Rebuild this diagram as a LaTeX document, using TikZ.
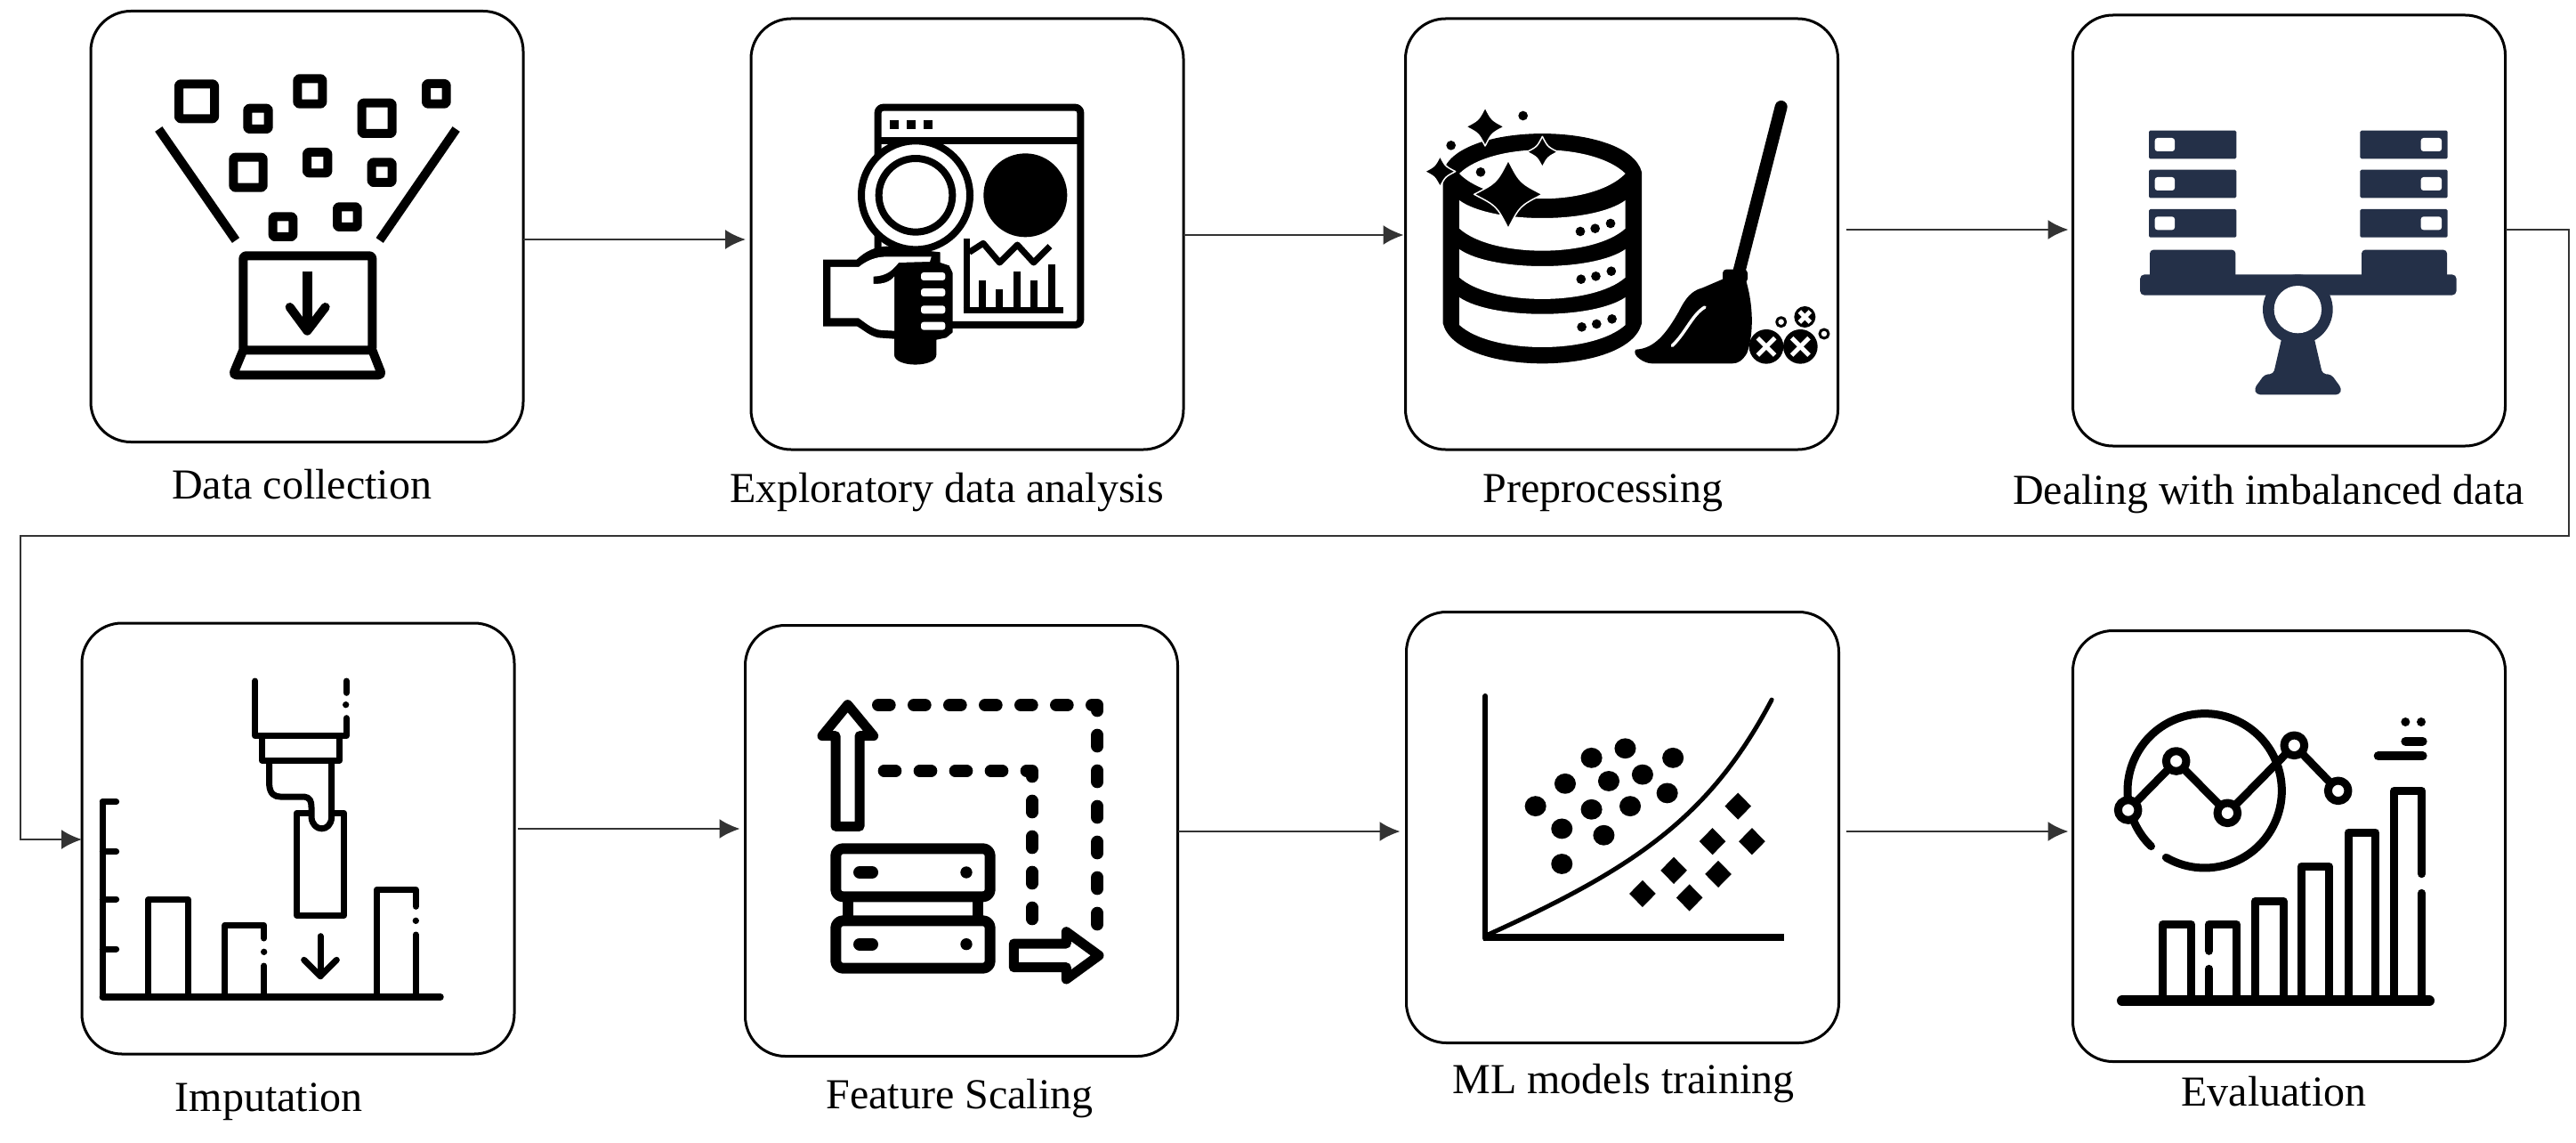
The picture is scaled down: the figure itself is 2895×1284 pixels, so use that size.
\documentclass[tikz,border=0pt]{standalone}
\usepackage{fontspec}
\setmainfont{Liberation Serif}
\usepackage{tikz}
\usetikzlibrary{arrows.meta,positioning,calc}
\definecolor{iconnavy}{RGB}{36,48,72}

\begin{document}
\begin{tikzpicture}[
        x=1pt, y=-1pt,
        >={Latex[length=23pt,width=22pt]},
        stepbox/.style={rectangle, rounded corners=45pt, draw, line width=3pt,
            minimum width=486pt,
            minimum height=484pt,
            inner sep=0pt, outer sep=0pt},
        steplabel/.style={inner sep=0pt, outer sep=0pt, text height=34pt, text depth=12pt,
            font=\fontsize{48}{50}\selectfont},
        flow/.style={->, line width=2.2pt, black!80},
        % each icon is measured in its own 3x frame
        crop/.style 2 args={shift={(#1,#2)}, scale=1/3},
        qd/.style={shift={(1450,640)}, xscale=.925, yscale=.408},
        ln/.style={line width=#1, line join=round},
        ln/.default=7pt
    ]
        \useasboundingbox (0,0) rectangle (2895,1284);

        \node[stepbox] (node1) at (345,254.5) {};
        \node[stepbox] (node2) at (1087,263) {};
        \node[stepbox] (node3) at (1822.5,263) {};
        \node[stepbox] (node4) at (2572.5,259) {};
        \node[stepbox] (node5) at (335,942) {};
        \node[stepbox] (node6) at (1080.5,944.5) {};
        \node[stepbox] (node7) at (1823.5,929.5) {};
        \node[stepbox] (node8) at (2572.5,950.5) {};

        \node[steplabel, below=30pt of node1, xshift=-6pt] (lab1) {Data collection};
        \node[steplabel, below=25pt of node2, xshift=-23pt] (lab2) {Exploratory data analysis};
        \node[steplabel, below=25pt of node3, xshift=-21pt] (lab3) {Preprocessing};
        \node[steplabel, below=31pt of node4, xshift=-23pt] (lab4) {Dealing with imbalanced data};
        \node[steplabel, below=30pt of node5, xshift=-33pt] (lab5) {Imputation};
        \node[steplabel, below=25pt of node6, xshift=-2pt] (lab6) {Feature Scaling};
        \node[steplabel, below=23pt of node7, xshift=1pt] (lab7) {ML models training};
        \node[steplabel, below=16pt of node8, xshift=-17pt] (lab8) {Evaluation};

        % Connections
        \coordinate (bendA) at (2887,602);
        \coordinate (bendB) at (23,602);
        \draw[flow] ([yshift=-14.5pt]node1.east) -- ([xshift=-6pt,yshift=-6pt]node2.west);
        \draw[flow] ([yshift=-1pt]node2.east) -- ([xshift=-2pt,yshift=-1pt]node3.west);
        \draw[flow] ([xshift=9pt,yshift=5pt]node3.east) -- ([xshift=-5pt,yshift=1pt]node4.west);
        \draw[flow] ([yshift=1pt]node4.east) -| (bendA) -- (bendB) |- ([yshift=-1pt]node5.west);
        \draw[flow] ([xshift=4pt,yshift=11pt]node5.east) -- ([xshift=-6pt,yshift=13.5pt]node6.west);
        \draw[flow] ([yshift=10.5pt]node6.east) -- ([xshift=-7pt,yshift=-4.5pt]node7.west);
        \draw[flow] ([xshift=8pt,yshift=-4.5pt]node7.east) -- ([xshift=-5pt,yshift=16.5pt]node8.west);

        % Data collection
        \begin{scope}[crop={160}{70}]
            \foreach \xa/\ya/\xb/\yb in {108/58/258/205, 340/140/440/240, 508/40/622/155,
                725/122/857/255, 942/57/1040/155, 292/305/422/437, 540/288/640/388,
                758/322/857/420, 425/505/523/603, 642/472/740/570}
                \draw[ln=10pt, rounded corners=2pt] (\xa+15,\ya+15) rectangle (\xb-15,\yb-15);
            \draw[ln=10pt] (55,225) -- (315,600);
            \draw[ln=10pt] (1058,225) -- (800,600);
            \draw[ln=10pt, rounded corners=3pt] (340,652) rectangle (775,970);
            \draw[ln=10pt, rounded corners=4pt] (340,970) -- (305,1054) -- (808,1054) -- (775,970);
            \draw[ln=11pt] (556,705) -- (556,895);
            \draw[ln=10pt, line cap=round] (497,825) -- (556,905) -- (617,825);
        \end{scope}

        % Exploratory data analysis
        \begin{scope}[crop={800}{120}]
            \draw[ln=8pt, rounded corners=6pt] (560,2) rectangle (1243,735);
            \draw[ln=8pt] (560,115) -- (1243,115);
            \foreach \xa in {615,672,730}
                \fill (\xa-15,45) rectangle (\xa+15,75);
            \fill (1057,298) circle [radius=141];
            \draw[ln=7pt] (858,695) -- (858,445);
            \draw[ln=7pt] (868,490) -- (915,460) -- (970,525) -- (1030,465) -- (1085,525) -- (1140,470);
            \foreach \xa/\ya in {912/585, 970/615, 1030/555, 1085/585, 1145/530}
                \draw[ln=8pt] (\xa,\ya) -- (\xa,685);
            \draw[ln=7pt] (848,685) -- (1185,685);
            % hand and handle
            \fill (375,515) -- (488,515) .. controls (520,485) and (550,472) .. (590,470)
                -- (770,490) -- (770,525) -- (800,535) -- (812,560) -- (812,760) -- (790,778) -- (757,785)
                -- (757,835) .. controls (757,880) and (615,880) .. (615,835)
                -- (615,782) -- (560,778) .. controls (530,770) and (515,755) .. (490,740) -- (375,740) -- cycle;
            \fill[white] (400,540) -- (495,540) .. controls (520,520) and (550,505) .. (590,505)
                -- (740,505) -- (735,522) -- (630,525) .. controls (610,550) and (590,570) .. (545,572)
                -- (545,597) .. controls (580,597) and (600,590) .. (615,572)
                -- (615,755) -- (565,752) .. controls (535,745) and (515,725) .. (495,712) -- (400,712) -- cycle;
            \foreach \ya in {558,612,670,725}
                \fill[white, rounded corners=3pt] (705,\ya) rectangle (787,\ya+27);
            % lens
            \draw[ln=8pt, fill=white] (687,298) circle [radius=183];
            \draw[ln=8pt] (687,298) circle [radius=124];
        \end{scope}

        % Preprocessing
        \begin{scope}[crop={1600}{100}]
            \fill (65,280) .. controls (110,107) and (690,107) .. (735,280) -- (735,790)
                .. controls (690,970) and (110,970) .. (65,790) -- cycle;
            \fill[white] (120,285) .. controls (230,178) and (570,178) .. (680,285)
                .. controls (570,398) and (230,398) .. (120,285) -- cycle;
            \foreach \ea/\ca/\eb/\cb in {375/455/470/570, 540/616/635/732, 702/777/795/895}
                \fill[white] (120,\ea) .. controls (230,\ca) and (570,\ca) .. (680,\ea) -- (680,\eb)
                    .. controls (570,\cb) and (230,\cb) .. (120,\eb) -- cycle;
            \foreach \ya in {0,161,322}
                \foreach \xa/\yb in {528/480, 578/470, 630/453}
                    \fill (\xa+.015*\ya,\yb+\ya) circle [radius=16];
            \foreach \xa/\ya/\ra in {207/127/65, 400/212/52, 55/278/52, 285/355/115}
                \fill[draw=white, line width=1.5pt, line join=round] (\xa,\ya-\ra)
                    .. controls (\xa+.34*\ra,\ya-.34*\ra) .. (\xa+\ra,\ya)
                    .. controls (\xa+.34*\ra,\ya+.34*\ra) .. (\xa,\ya+\ra)
                    .. controls (\xa-.34*\ra,\ya+.34*\ra) .. (\xa-\ra,\ya)
                    .. controls (\xa-.34*\ra,\ya-.34*\ra) .. cycle;
            \fill (335,90) circle [radius=16];
            \fill (92,190) circle [radius=16];
            \fill (192,280) circle [radius=16];
            % broom
            \draw[ln=14pt, line cap=round] (1205,60) -- (1062,620);
            \fill[rounded corners=4pt] (1008,608) rectangle (1092,652);
            \fill (1010,640) -- (1085,640) .. controls (1110,720) and (1115,820) .. (1090,890)
                .. controls (1075,915) and (1060,925) .. (1040,925) -- (770,925)
                .. controls (740,925) and (700,895) .. (715,878) .. controls (780,875) and (820,820) .. (860,750)
                .. controls (880,710) and (900,680) .. (940,670) -- cycle;
            \draw[ln=3.5pt, white, line cap=round] (948,735) .. controls (905,760) and (885,820) .. (838,865);
            \foreach \xa/\ya/\ra in {1155/868/58, 1270/868/58, 1285/768/36} {
                \fill (\xa,\ya) circle [radius=\ra];
                \draw[ln=5pt, white] (\xa-.5*\ra,\ya-.5*\ra) -- (\xa+.5*\ra,\ya+.5*\ra);
                \draw[ln=5pt, white] (\xa+.5*\ra,\ya-.5*\ra) -- (\xa-.5*\ra,\ya+.5*\ra);
            }
            \draw[ln=3pt] (1205,785) circle [radius=15];
            \draw[ln=3pt] (1350,825) circle [radius=15];
        \end{scope}

        % Dealing with imbalanced data
        \begin{scope}[crop={2380}{120}, iconnavy]
            \foreach \ya in {80,212,345} {
                \fill[rounded corners=1.5pt] (105,\ya) rectangle (400,\ya+95);
                \fill[rounded corners=1.5pt] (817,\ya) rectangle (1112,\ya+95);
                \fill[white, rounded corners=3pt] (125,\ya+25) rectangle (192,\ya+70);
                \fill[white, rounded corners=3pt] (1022,\ya+25) rectangle (1092,\ya+70);
            }
            \fill[rounded corners=4pt] (108,482) rectangle (397,590);
            \fill[rounded corners=4pt] (822,482) rectangle (1110,590);
            \fill[rounded corners=5pt] (75,565) rectangle (1142,635);
            \fill[rounded corners=4pt] (555,770) -- (525,900) -- (495,902) -- (460,950) -- (468,970)
                -- (748,970) -- (755,950) -- (720,902) -- (690,900) -- (660,770) -- cycle;
            \fill (607,683) circle [radius=118];
            \fill[white] (607,683) circle [radius=80];
        \end{scope}

        % Imputation
        \begin{scope}[crop={100}{750}, line cap=round]
            \draw[ln] (46,452) -- (46,1110);
            \foreach \ya in {452,620,780,948}
                \draw[ln] (46,\ya) -- (92,\ya);
            \draw[ln=7.5pt] (46,1110) -- (1185,1110);
            \draw[ln] (200,1110) -- (200,782) -- (335,782) -- (335,1110);
            \draw[ln] (458,1110) -- (458,868) -- (590,868) -- (590,912);
            \fill (590,958) circle [radius=11];
            \draw[ln] (590,1005) -- (590,1110);
            \draw[ln] (970,1110) -- (970,748) -- (1102,748) -- (1102,805);
            \fill (1102,853) circle [radius=11];
            \draw[ln] (1102,900) -- (1102,1110);
            \draw[ln] (742,490) -- (700,490) -- (700,835) -- (860,835) -- (860,490) -- (820,490);
            \draw[ln] (560,45) -- (560,230) -- (868,230) -- (868,170);
            \draw[ln] (868,45) -- (868,85);
            \fill (866,125) circle [radius=11];
            \draw[ln] (583,235) -- (583,312) -- (845,312) -- (845,235);
            \draw[ln] (608,315) -- (608,395) .. controls (610,425) and (625,435) .. (645,435) -- (725,435)
                .. controls (745,437) and (750,450) .. (750,470) -- (750,505)
                .. controls (755,555) and (815,555) .. (818,505) -- (818,315);
            \draw[ln] (780,905) -- (780,1040);
            \draw[ln] (725,985) -- (780,1040) -- (835,985);
        \end{scope}

        % Feature Scaling
        \begin{scope}[crop={900}{770}]
            \draw[ln=11pt] (117,475) -- (117,170) -- (72,170) -- (158,65) -- (245,170) -- (198,170) -- (198,475) -- cycle;
            \draw[line width=14pt, line cap=round, line join=round, dash pattern=on 12.67pt off 27.33pt]
                (261,66) -- (1000,66) -- (1000,815);
            \draw[line width=14pt, line cap=round, line join=round, dash pattern=on 12.67pt off 27.33pt]
                (281,288) -- (780,288) -- (780,795);
            \draw[ln=11pt] (718,870) -- (895,870) -- (895,830) -- (1005,910) -- (895,990) -- (895,950) -- (718,950) -- cycle;
            \draw[ln=12pt, rounded corners=8pt] (118,550) rectangle (638,712);
            \draw[ln=12pt, rounded corners=8pt] (118,793) rectangle (638,953);
            \draw[ln=12pt] (158,712) -- (158,793);
            \draw[ln=12pt] (598,712) -- (598,793);
            \foreach \ya in {630,872} {
                \draw[line width=14pt, line cap=round] (198,\ya) -- (240,\ya);
                \fill (558,\ya) circle [radius=20];
            }
        \end{scope}

        % ML models training
        \begin{scope}[qd]
            \draw[ln=6pt, line cap=round] (237,348) -- (237,1015);
            \draw[ln=8pt] (235,1012) -- (600,1012);
            \draw[ln=5pt, line cap=round] (240,1005) .. controls (420,820) and (510,680) .. (585,358);
            \foreach \xa/\ya in {366/518, 407/492, 465/518, 334/589, 387/582, 428/564, 458/615,
                298/651, 366/660, 413/651, 330/713, 381/731, 330/810}
                \fill (\xa,\ya) ellipse [x radius=13, y radius=28];
            \foreach \xa/\ya in {544/651, 513/748, 561/748, 466/828, 520/838, 428/892, 485/903}
                \fill (\xa,\ya-37) -- (\xa+16,\ya) -- (\xa,\ya+37) -- (\xa-16,\ya) -- cycle;
        \end{scope}

        % Evaluation
        \begin{scope}[crop={2350}{780}, line cap=round]
            \draw[ln=9pt] (253,550) arc [start angle=120, end angle=-226, radius=260];
            \draw[ln=9pt] (125,390) -- (287,225) -- (460,400) -- (685,172) -- (833,325);
            \foreach \xa/\ya in {125/390, 287/225, 460/400, 685/172, 833/325}
                \draw[ln=9pt, fill=white] (\xa,\ya) circle [radius=34];
            \draw[ln=12pt] (105,1033) -- (1140,1033);
            \foreach \xa/\ya/\xb in {242/775/337, 553/697/648, 708/580/803, 868/465/958}
                \draw[ln=9pt] (\xa,1030) -- (\xa,\ya) -- (\xb,\ya) -- (\xb,1030);
            \draw[ln=9pt] (398,865) -- (398,775) -- (490,775) -- (490,1030);
            \draw[ln=9pt] (398,925) -- (398,1030);
            \draw[ln=9pt] (1022,1030) -- (1022,325) -- (1115,325) -- (1115,605);
            \draw[ln=9pt] (1115,670) -- (1115,1030);
            \draw[ln=10pt] (968,208) -- (1118,208);
            \draw[ln=10pt] (1060,158) -- (1118,158);
            \fill (1060,93) circle [radius=15];
            \fill (1113,93) circle [radius=15];
        \end{scope}
    \end{tikzpicture}
\end{document}
